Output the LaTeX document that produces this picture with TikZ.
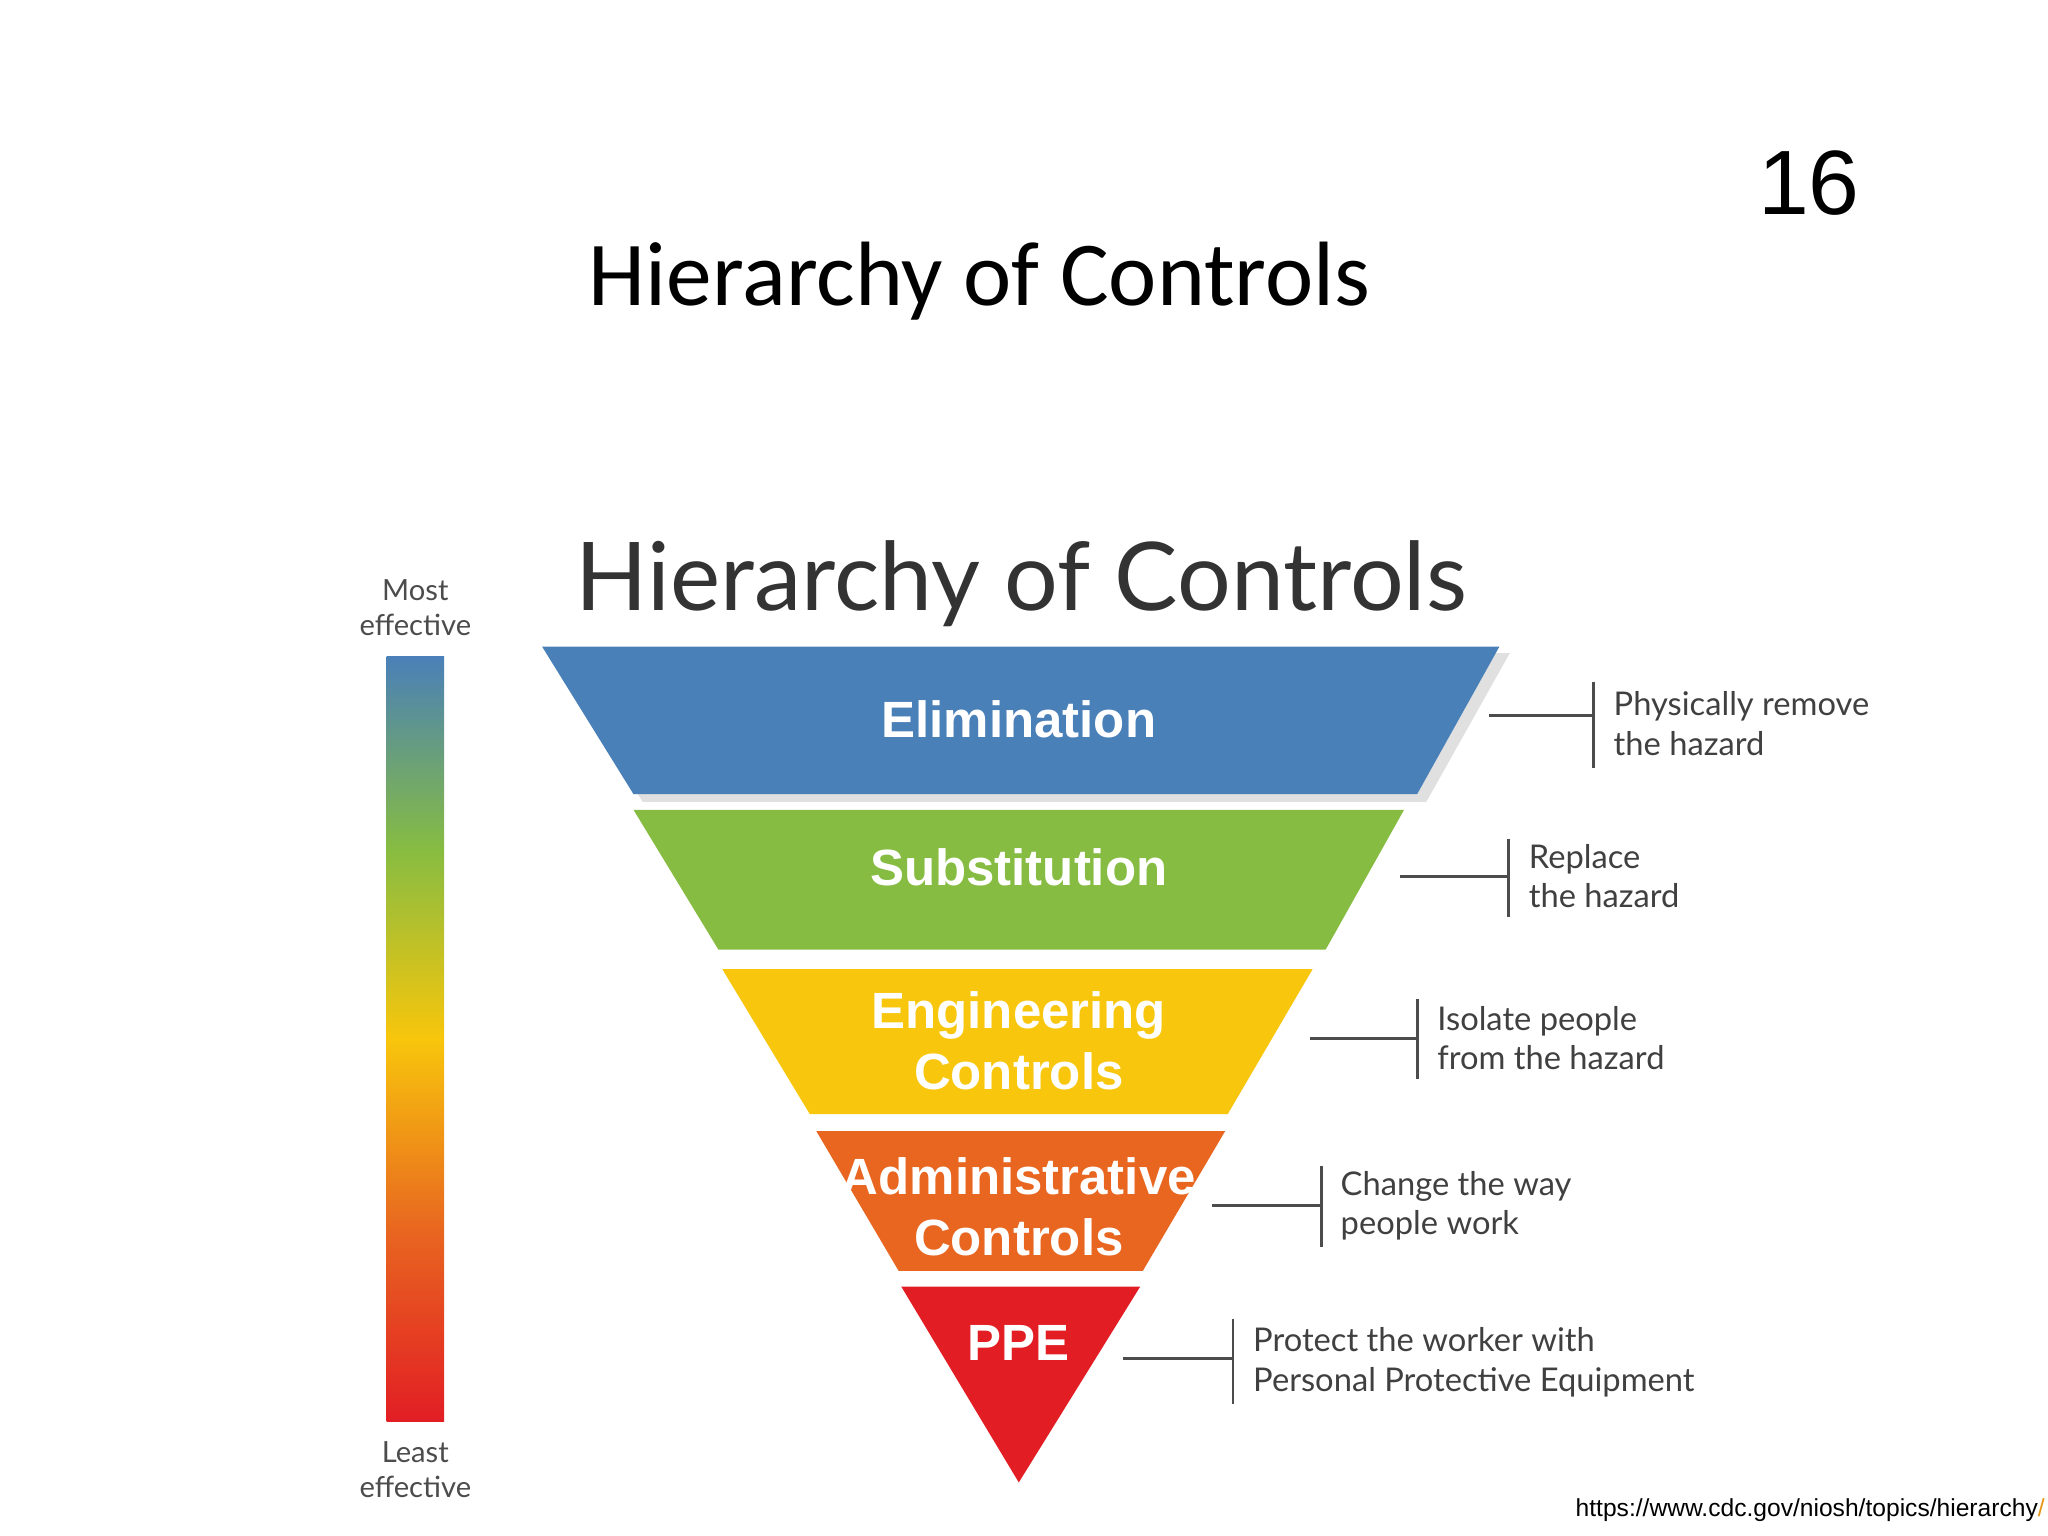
\documentclass[tikz,border=0pt]{standalone}
\usepackage{fontspec}
\setmainfont{Carlito}
\newfontfamily\arialf{Liberation Sans}
\newfontfamily\gothf{Lato}
\usetikzlibrary{positioning}
\definecolor{elim}{RGB}{74,128,184}
\definecolor{subst}{RGB}{134,188,66}
\definecolor{engin}{RGB}{248,198,12}
\definecolor{admin}{RGB}{232,102,32}
\definecolor{ppe}{RGB}{226,30,36}
\definecolor{urlorange}{RGB}{230,150,20}
\pgfdeclareverticalshading{effshade}{100bp}{
  color(0bp)=(ppe); color(25bp)=(ppe); color(37.5bp)=(admin); color(50bp)=(engin);
  color(62.5bp)=(subst); color(75bp)=(elim); color(100bp)=(elim)}
\tikzset{
  level/.style={draw=none},
  lvltext/.style={text=white, font=\arialf\bfseries\fontsize{14.5}{17.5}\selectfont, align=center},
  note/.style={anchor=west, align=left, text=black!75, font=\gothf\fontsize{9.3}{11.2}\selectfont},
  tick/.style={black!70, line width=0.8pt},
  endtext/.style={align=center, text=black!70, font=\gothf\fontsize{8.3}{10}\selectfont}
}
\begin{document}
\begin{tikzpicture}[x=0.01306cm, y=-0.01306cm]
  \useasboundingbox (0,0) rectangle (1568,1176);

  \node (page) at (1385,140) {\arialf\fontsize{26}{30}\selectfont 16};
  \node (title) at (750,215) {\fontsize{26}{30}\selectfont Hierarchy of Controls};
  \node (inner) at (782,447) {\color{black!80}\gothf\fontsize{27}{31}\selectfont Hierarchy of Controls};

  % effectiveness bar
  \shade[shading=effshade] (296,503) rectangle (340,1088);
  \node[endtext] (most) at (318,465) {Most\\effective};
  \node[endtext] (least) at (318,1125) {Least\\effective};

  % inverted pyramid
  \fill[black!12] (422,500) -- (1156,500) -- (1092,614) -- (492,614) -- cycle;
  \fill[elim] (415,495) -- (1148,495) -- (1085,608) -- (485,608) -- cycle;
  \fill[subst] (485,620) -- (1075,620) -- (1015,727) -- (550,727) -- cycle;
  \fill[engin] (553,742) -- (1005,742) -- (940,853) -- (620,853) -- cycle;
  \fill[admin] (625,866) -- (938,866) -- (875,973) -- (688,973) -- cycle;
  \fill[ppe] (690,985) -- (873,985) -- (780,1135) -- cycle;

  \node[lvltext] (elimtxt) at (780,551) {Elimination};
  \node[lvltext] (substtxt) at (780,664) {Substitution};
  \node[lvltext] (engintxt) at (780,797) {Engineering\\Controls};
  \node[lvltext] (admintxt) at (780,924) {Administrative\\Controls};
  \node[lvltext] (ppetxt) at (780,1028) {PPE};

  % side notes
  \coordinate (e0) at (1140,548);  \coordinate (e1) at (1220,548);
  \coordinate (s0) at (1072,671);  \coordinate (s1) at (1155,671);
  \coordinate (g0) at (1003,795);  \coordinate (g1) at (1085,795);
  \coordinate (a0) at (928,923);   \coordinate (a1) at (1012,923);
  \coordinate (p0) at (860,1040);  \coordinate (p1) at (944,1040);
  \draw[tick] (e0) -- (e1);  \draw[tick] (1220,522) -- (1220,588);
  \draw[tick] (s0) -- (s1);  \draw[tick] (1155,642) -- (1155,702);
  \draw[tick] (g0) -- (g1);  \draw[tick] (1085,765) -- (1085,826);
  \draw[tick] (a0) -- (a1);  \draw[tick] (1012,893) -- (1012,955);
  \draw[tick] (p0) -- (p1);  \draw[tick] (944,1010) -- (944,1075);

  \node[note] (enote) at (1226,554) {Physically remove\\the hazard};
  \node[note] (snote) at (1161,671) {Replace\\the hazard};
  \node[note] (gnote) at (1091,795) {Isolate people\\from the hazard};
  \node[note] (anote) at (1017,923) {Change the way\\people work};
  \node[note] (pnote) at (950,1043) {Protect the worker with\\Personal Protective Equipment};

  \node[anchor=east, inner sep=0pt] (url) at (1566,1156)
    {\arialf\fontsize{7}{8.5}\selectfont https://www.cdc.gov/niosh/topics/hierarchy\textcolor{urlorange}{/}};
\end{tikzpicture}
\end{document}
